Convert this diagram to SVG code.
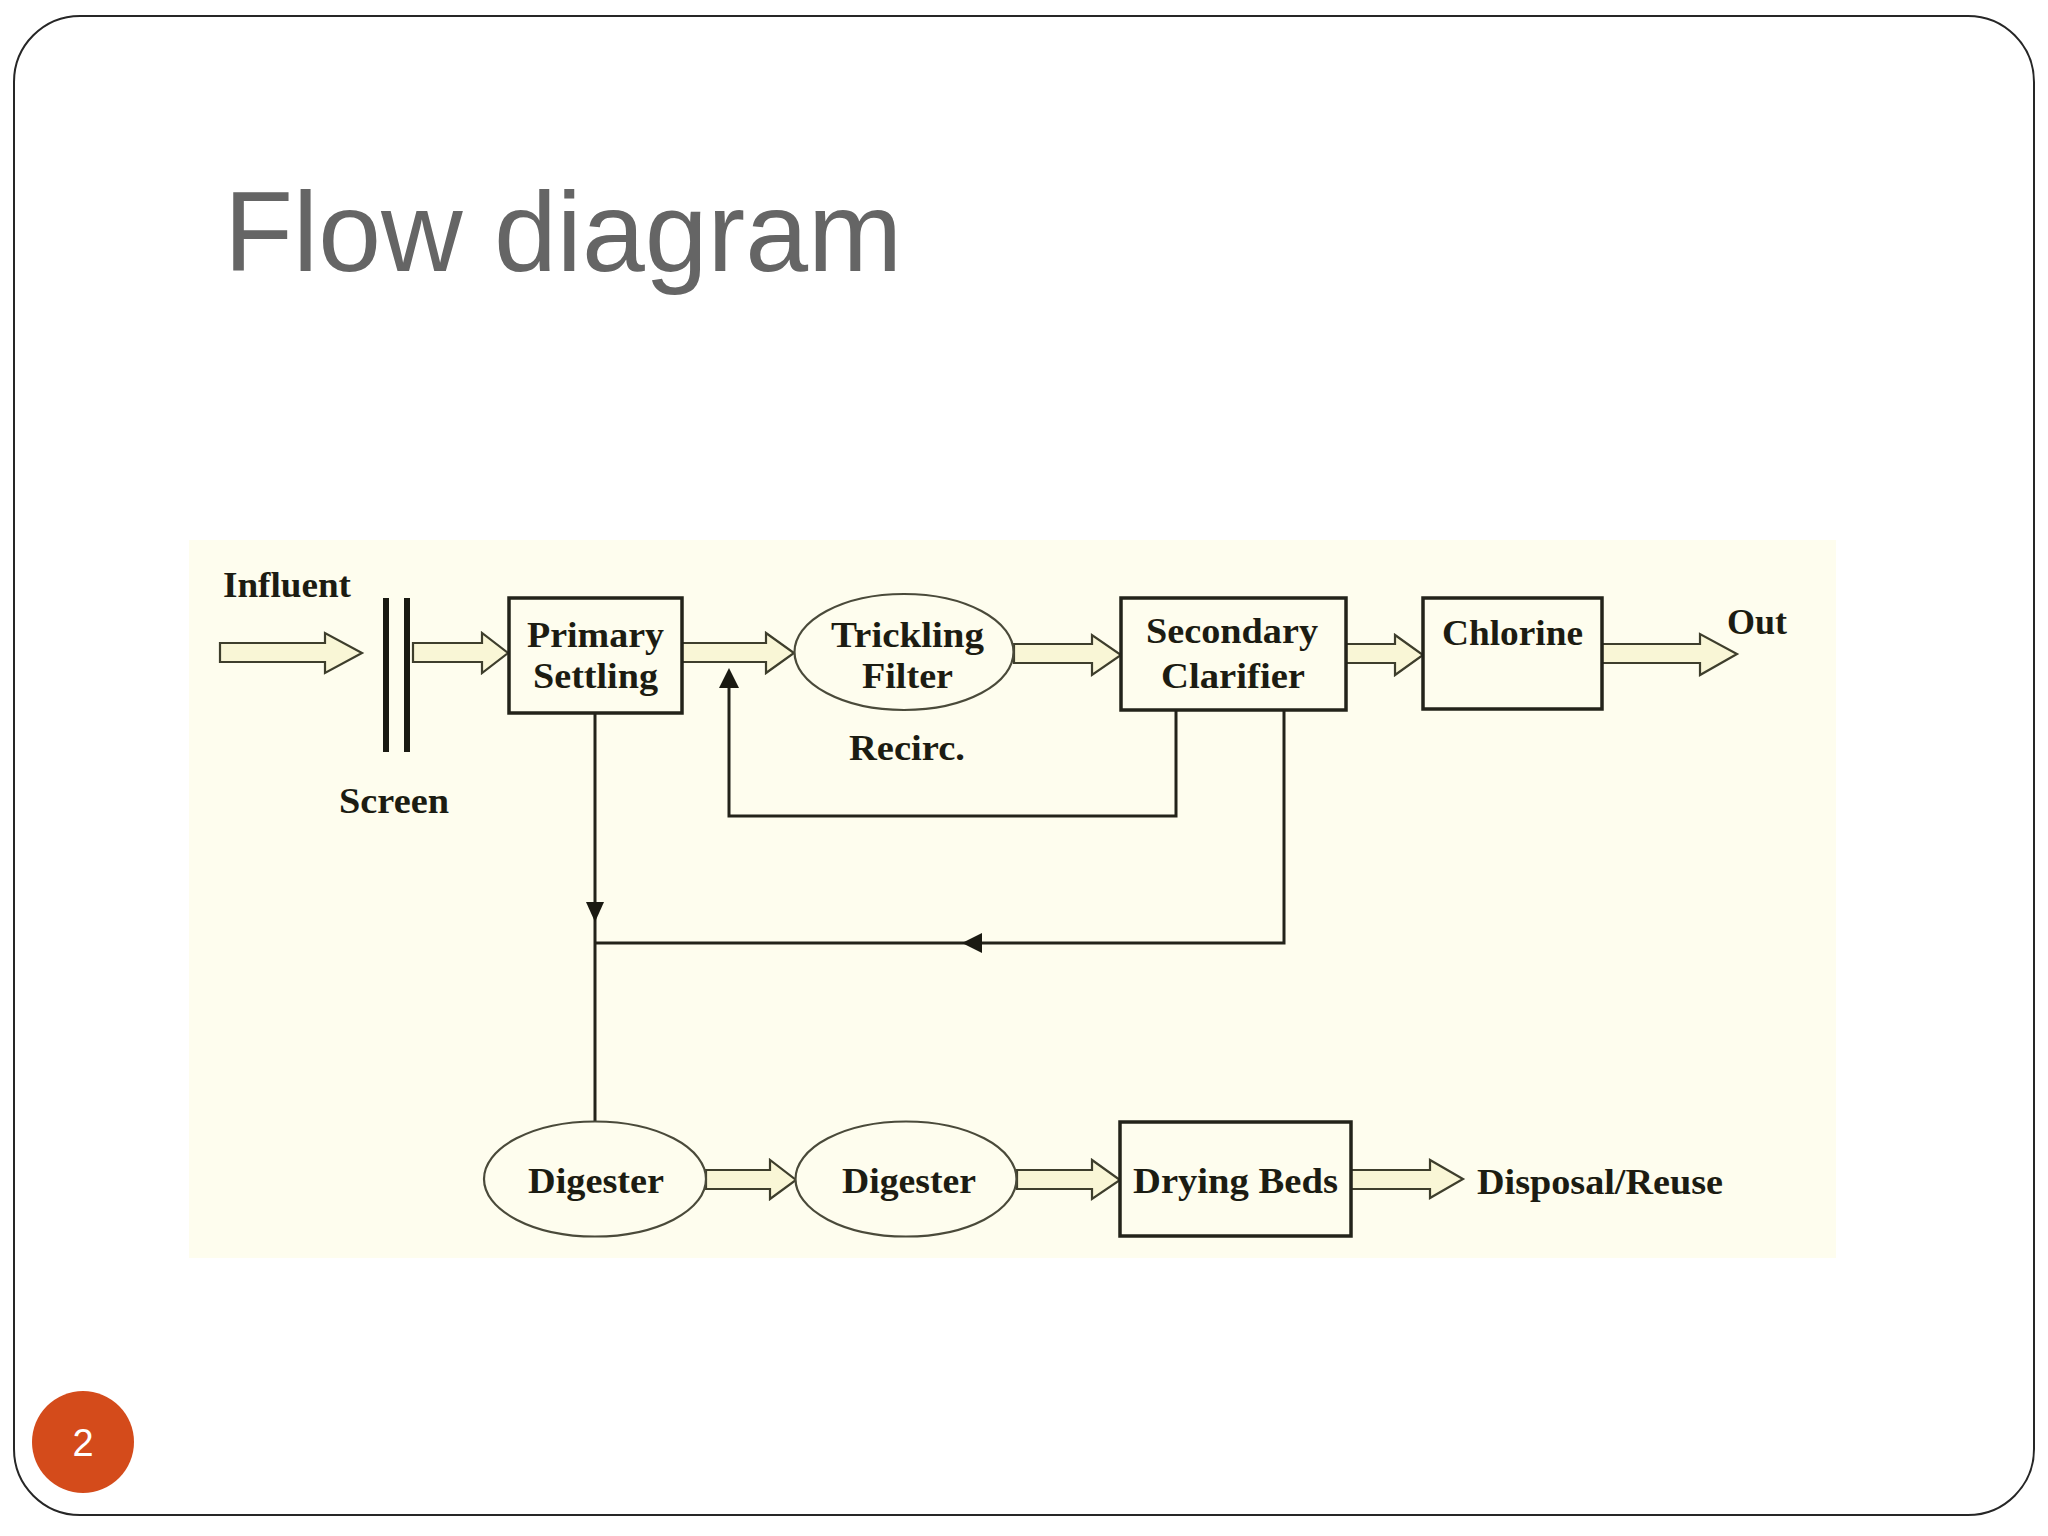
<svg xmlns="http://www.w3.org/2000/svg" width="2048" height="1536" viewBox="0 0 2048 1536">
<defs>
<style>
.lbl{font-family:"Liberation Serif","Times New Roman",serif;font-weight:bold;font-size:35px;fill:#1c1c12}
.box{fill:#fefdee;stroke:#23231a;stroke-width:3.5}
.ell{fill:#fefdee;stroke:#4a4a3a;stroke-width:2.2}
.barrow{fill:#f9f6d6;stroke:#3e3e2c;stroke-width:2.2;stroke-linejoin:miter}
.line{fill:none;stroke:#23231a;stroke-width:3}
.head{fill:#1a1a12}
</style>
</defs>
<rect x="0" y="0" width="2048" height="1536" fill="#ffffff"/>
<rect x="14" y="16" width="2020" height="1499" rx="66" ry="66" fill="#ffffff" stroke="#262626" stroke-width="2"/>
<text x="224" y="271" font-family="'Liberation Sans',Arial,sans-serif" font-size="113" fill="#656565">Flow diagram</text>
<rect x="189" y="540" width="1647" height="718" fill="#fefdee"/>

<g id="connectors">
<path class="barrow" d="M220,643 L325,643 L325,633 L362,653 L325,673 L325,662 L220,662 Z"/>
<path class="barrow" d="M413,643 L482,643 L482,633 L508,653 L482,673 L482,662 L413,662 Z"/>
<path class="barrow" d="M682,643 L766,643 L766,633 L794,653 L766,673 L766,662 L682,662 Z"/>
<path class="barrow" d="M1014,644 L1092,644 L1092,635 L1121,655 L1092,675 L1092,663 L1014,663 Z"/>
<path class="barrow" d="M1346,644 L1395,644 L1395,635 L1423,655 L1395,675 L1395,663 L1346,663 Z"/>
<path class="barrow" d="M1602,644 L1700,644 L1700,634 L1737,654 L1700,675 L1700,663 L1602,663 Z"/>
<path class="barrow" d="M706,1170 L770,1170 L770,1160 L796,1180 L770,1199 L770,1189 L706,1189 Z"/>
<path class="barrow" d="M1017,1170 L1092,1170 L1092,1160 L1120,1180 L1092,1199 L1092,1189 L1017,1189 Z"/>
<path class="barrow" d="M1351,1170 L1430,1170 L1430,1160 L1463,1179 L1430,1198 L1430,1189 L1351,1189 Z"/>
<path class="line" d="M595,713 L595,1122"/>
<path class="head" d="M586,902 L604,902 L595,922 Z"/>
<path class="line" d="M1176,710 L1176,816 L729,816 L729,684"/>
<path class="head" d="M719,688 L739,688 L729,668 Z"/>
<path class="line" d="M1284,710 L1284,943 L595,943"/>
<path class="head" d="M982,933 L982,953 L962,943 Z"/>
</g>

<g id="influent"><text class="lbl" x="223" y="597" textLength="128" lengthAdjust="spacingAndGlyphs">Influent</text></g>
<g id="screen">
<line x1="386" y1="598" x2="386" y2="752" stroke="#1a1a12" stroke-width="6"/>
<line x1="407" y1="598" x2="407" y2="752" stroke="#1a1a12" stroke-width="6"/>
<text class="lbl" x="339" y="813" textLength="110" lengthAdjust="spacingAndGlyphs">Screen</text>
</g>
<g id="primary-settling">
<rect class="box" x="509" y="598" width="173" height="115"/>
<text class="lbl" x="527" y="647" textLength="137" lengthAdjust="spacingAndGlyphs">Primary</text>
<text class="lbl" x="533" y="688" textLength="125" lengthAdjust="spacingAndGlyphs">Settling</text>
</g>
<g id="trickling-filter">
<ellipse class="ell" cx="904" cy="652" rx="109.5" ry="58"/>
<text class="lbl" x="831" y="647" textLength="153" lengthAdjust="spacingAndGlyphs">Trickling</text>
<text class="lbl" x="862" y="688" textLength="91" lengthAdjust="spacingAndGlyphs">Filter</text>
</g>
<g id="recirc"><text class="lbl" x="849" y="760" textLength="116" lengthAdjust="spacingAndGlyphs">Recirc.</text></g>
<g id="secondary-clarifier">
<rect class="box" x="1121" y="598" width="225" height="112"/>
<text class="lbl" x="1146" y="643" textLength="172" lengthAdjust="spacingAndGlyphs">Secondary</text>
<text class="lbl" x="1161" y="688" textLength="144" lengthAdjust="spacingAndGlyphs">Clarifier</text>
</g>
<g id="chlorine">
<rect class="box" x="1423" y="598" width="179" height="111"/>
<text class="lbl" x="1442" y="645" textLength="141" lengthAdjust="spacingAndGlyphs">Chlorine</text>
</g>
<g id="out"><text class="lbl" x="1727" y="634" textLength="60" lengthAdjust="spacingAndGlyphs">Out</text></g>
<g id="digester-1">
<ellipse class="ell" cx="595" cy="1179" rx="111" ry="57.5"/>
<text class="lbl" x="528" y="1193" textLength="136" lengthAdjust="spacingAndGlyphs">Digester</text>
</g>
<g id="digester-2">
<ellipse class="ell" cx="906" cy="1179" rx="110.5" ry="57.5"/>
<text class="lbl" x="842" y="1193" textLength="134" lengthAdjust="spacingAndGlyphs">Digester</text>
</g>
<g id="drying-beds">
<rect class="box" x="1120" y="1122" width="231" height="114"/>
<text class="lbl" x="1133" y="1193" textLength="205" lengthAdjust="spacingAndGlyphs">Drying Beds</text>
</g>
<g id="disposal"><text class="lbl" x="1477" y="1194" textLength="246" lengthAdjust="spacingAndGlyphs">Disposal/Reuse</text></g>

<g id="page-number">
<circle cx="83" cy="1442" r="51" fill="#d44b1b"/>
<text x="83" y="1456" text-anchor="middle" font-family="'Liberation Sans',Arial,sans-serif" font-size="38" fill="#ffffff">2</text>
</g>
</svg>
